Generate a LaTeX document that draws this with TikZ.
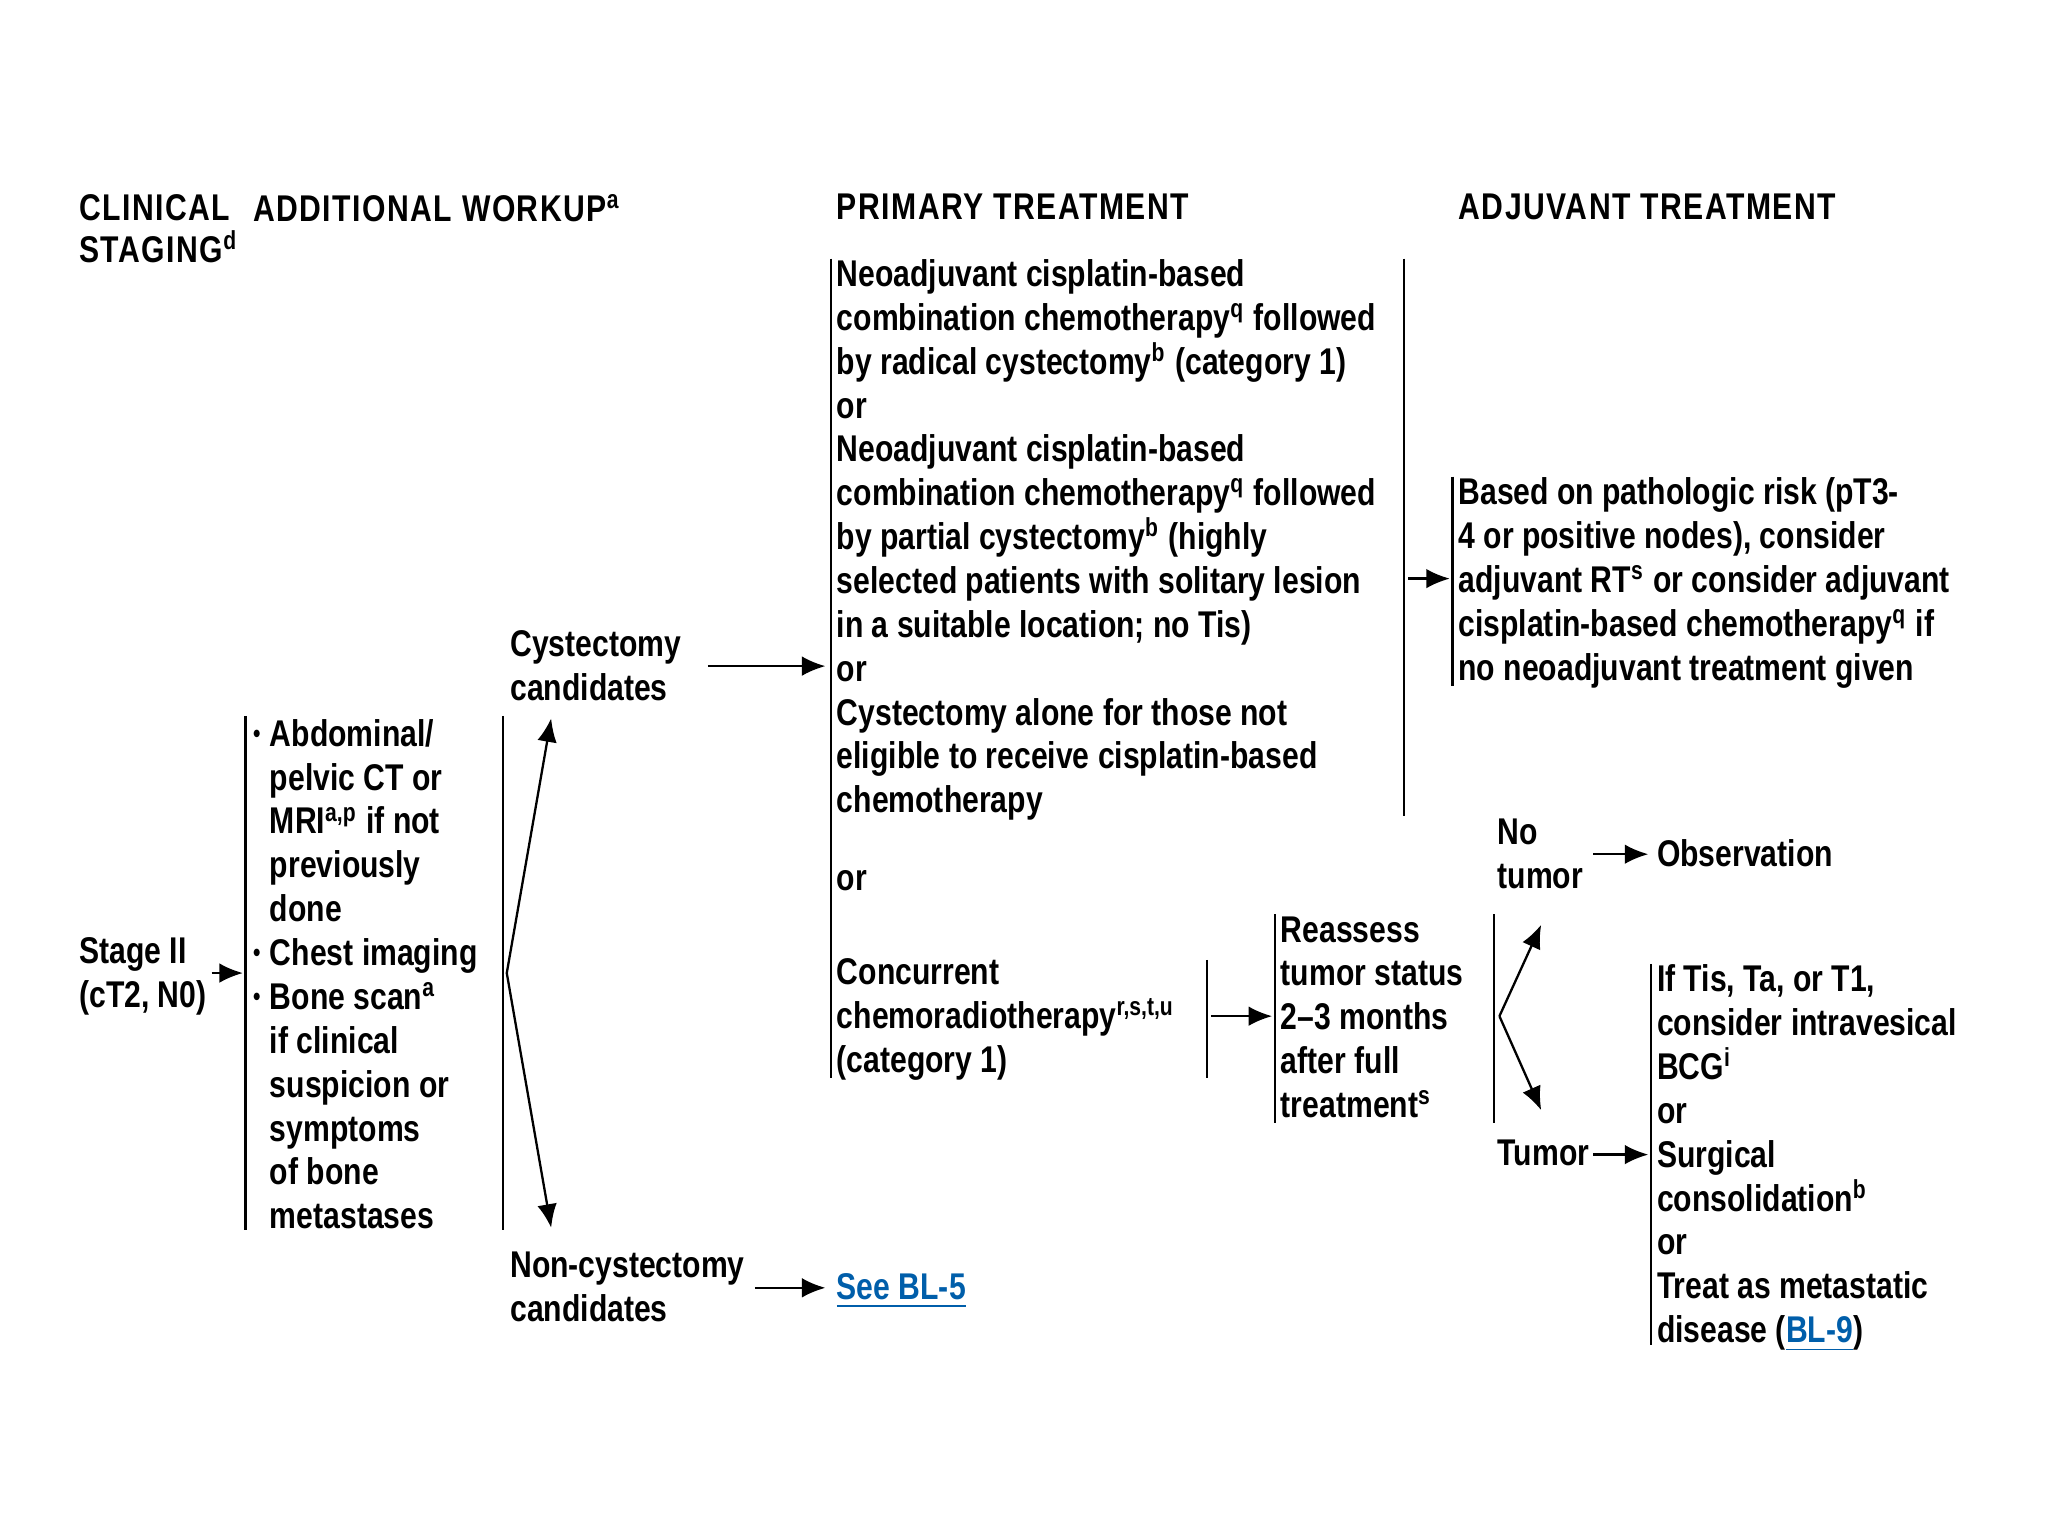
\documentclass[tikz,border=0pt]{standalone}
\usepackage{fontspec}
\setmainfont[FakeStretch=0.81]{Liberation Sans}
\usetikzlibrary{arrows.meta}
\definecolor{linkblue}{RGB}{0,94,170}
\newcommand{\sps}[1]{\textsuperscript{#1}}
\newcommand{\bul}{\makebox[1.3mm][l]{\raisebox{0.2ex}{\scalebox{0.7}{\textbullet}}}}
\newcommand{\ind}{\hphantom{\bul}}
\tikzset{
  txt/.style={anchor=north west,inner sep=0pt,align=left,font={\fontsize{8.1}{9.55}\selectfont\bfseries}},
  hdr/.style={anchor=north west,inner sep=0pt,align=left,font={\fontsize{8.1}{9.3}\selectfont\bfseries\addfontfeature{LetterSpace=4}}},
  bar/.style={line width=0.5pt},
  arr/.style={line width=0.5pt,-{Latex[length=1.8mm,width=1.5mm]}}
}
\begin{document}
\begin{tikzpicture}[x=0.01cm,y=-0.01cm]
\useasboundingbox (0,0) rectangle (1568,1176);
% headers
\node[hdr] (h1) at (60,148) {CLINICAL\\STAGING\sps{d}};
\node[hdr] (h2) at (193,148) {ADDITIONAL WORKUP\sps{a}};
\node[hdr] (h3) at (640,148) {PRIMARY TREATMENT};
\node[hdr] (h4) at (1116,148) {ADJUVANT TREATMENT};
% stage
\node[txt] (stage) at (60,717) {Stage II\\(cT2, N0)};
\coordinate (s1) at (162,745); \coordinate (s2) at (186,745);
\draw[arr] (s1) -- (s2);
\draw[bar] (188,548) -- (188,942);
\node[txt] (work) at (193,550) {\bul Abdominal/\\\ind pelvic CT or\\\ind MRI\sps{a,p} if not\\\ind previously\\\ind done\\\bul Chest imaging\\\bul Bone scan\sps{a}\\\ind if clinical\\\ind suspicion or\\\ind symptoms\\\ind of bone\\\ind metastases};
\draw[bar] (385,548) -- (385,942);
\coordinate (fork) at (388,745);
\coordinate (up) at (422,550); \coordinate (dn) at (422,940);
\draw[arr] (fork) -- (up);
\draw[arr] (fork) -- (dn);
\node[txt] (cyst) at (390,482) {Cystectomy\\candidates};
\coordinate (c1) at (542,510); \coordinate (c2) at (632,510);
\draw[arr] (c1) -- (c2);
\node[txt] (noncyst) at (390,958) {Non-cystectomy\\candidates};
\coordinate (n1) at (578,986); \coordinate (n2) at (632,986);
\draw[arr] (n1) -- (n2);
\node[txt,text=linkblue] (bl5) at (640,974) {\underline{See BL-5}};
% primary
\draw[bar] (636,198) -- (636,825);
\node[txt] (prim) at (640,198) {Neoadjuvant cisplatin-based\\combination chemotherapy\sps{q} followed\\by radical cystectomy\sps{b} (category 1)\\or\\Neoadjuvant cisplatin-based\\combination chemotherapy\sps{q} followed\\by partial cystectomy\sps{b} (highly\\selected patients with solitary lesion\\in a suitable location; no Tis)\\or\\Cystectomy alone for those not\\eligible to receive cisplatin-based\\chemotherapy};
\node[txt] (or3) at (640,666) {or};
\node[txt] (conc) at (640,733) {Concurrent\\chemoradiotherapy\sps{r,s,t,u}\\(category 1)};
\draw[bar] (1075,198) -- (1075,625);
\coordinate (p1) at (1078,443); \coordinate (p2) at (1110,443);
\draw[arr] (p1) -- (p2);
\draw[bar] (1112,365) -- (1112,525);
\node[txt] (adj) at (1116,365) {Based on pathologic risk (pT3-\\4 or positive nodes), consider\\adjuvant RT\sps{s} or consider adjuvant\\cisplatin-based chemotherapy\sps{q} if\\no neoadjuvant treatment given};
\draw[bar] (924,735) -- (924,825);
\coordinate (r1) at (927,778); \coordinate (r2) at (974,778);
\draw[arr] (r1) -- (r2);
\draw[bar] (976,700) -- (976,860);
\node[txt] (reas) at (980,701) {Reassess\\tumor status\\2--3 months\\after full\\treatment\sps{s}};
\draw[bar] (1144,700) -- (1144,860);
\coordinate (f2) at (1148,778);
\coordinate (u2) at (1180,708); \coordinate (d2) at (1180,850);
\draw[arr] (f2) -- (u2);
\draw[arr] (f2) -- (d2);
\node[txt] (notum) at (1146,626) {No\\tumor};
\coordinate (o1) at (1220,654); \coordinate (o2) at (1262,654);
\draw[arr] (o1) -- (o2);
\node[txt] (obs) at (1268,642) {Observation};
\node[txt] (tum) at (1146,872) {Tumor};
\coordinate (t1) at (1220,884); \coordinate (t2) at (1262,884);
\draw[arr] (t1) -- (t2);
\draw[bar] (1264,738) -- (1264,1030);
\node[txt] (tumtx) at (1268,738) {If Tis, Ta, or T1,\\consider intravesical\\BCG\sps{i}\\or\\Surgical\\consolidation\sps{b}\\or\\Treat as metastatic\\disease ({\color{linkblue}\underline{BL-9}})};
\end{tikzpicture}
\end{document}
